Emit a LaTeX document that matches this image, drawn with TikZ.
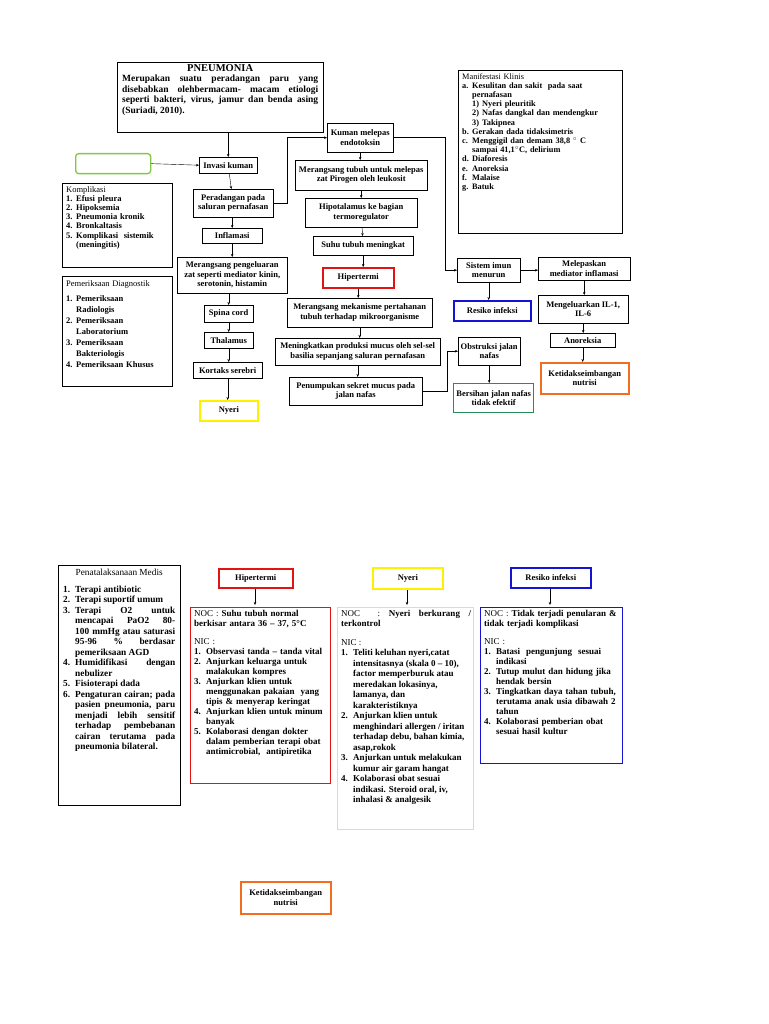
\documentclass[tikz,border=0pt]{standalone}
\usepackage{fontspec}
\setmainfont{Liberation Serif}
\usetikzlibrary{arrows.meta}
\newcommand\itm[2]{\par\hangindent=10pt\hangafter=1\noindent\makebox[10pt][l]{#1}#2}
\newcommand\itmb[2]{\par\hangindent=12pt\hangafter=1\noindent\makebox[12pt][l]{#1}#2}
\newcommand\myjust{\leftskip=0pt\rightskip=0pt\parfillskip=0pt plus 1fil\relax}
\definecolor{myred}{RGB}{225,20,20}
\definecolor{myyel}{RGB}{255,240,0}
\definecolor{myblue}{RGB}{20,20,210}
\definecolor{myorg}{RGB}{240,110,30}
\definecolor{mygrn}{RGB}{130,200,70}
\definecolor{myteal}{RGB}{40,140,90}
\tikzset{
 fb/.style={draw,anchor=north west,align=center,inner sep=1pt,font=\fontsize{8.5}{9.5}\selectfont\bfseries},
 arr/.style={-{Stealth[length=3pt,width=2.5pt]},thin},
 tx/.style={anchor=north west,inner sep=0pt,align=left},
}
\newcommand\flb[7][]{\node[fb,minimum width=#5pt,minimum height=#6pt,#1] (#2) at (#3,#4) {#7};}
\begin{document}
\begin{tikzpicture}[x=1pt,y=-1pt]
\useasboundingbox[fill=white] (0,0) rectangle (768,1024);
\hyphenpenalty=10000
% PNEUMONIA
\node[draw,anchor=north west,minimum width=206pt,minimum height=70pt] (pn) at (117,62) {};
\node[tx,align=justify,text width=196pt,font=\fontsize{9.5}{10.5}\selectfont\bfseries] at (122,64) {\centering\fontsize{10.5}{12}\selectfont PNEUMONIA\par\fontsize{9.5}{10.5}\selectfont\myjust\hyphenpenalty=10000 Merupakan suatu peradangan paru yang disebabkan olehbermacam- macam etiologi seperti bakteri, virus, jamur dan benda asing (Suriadi, 2010).\par};
\node[draw=mygrn,line width=1.3pt,rounded corners=3pt,anchor=north west,minimum width=75pt,minimum height=20pt] (gr) at (75,153) {};
\flb{inv}{199}{157}{58}{16}{Invasi kuman}
\flb{per}{193}{189}{80}{28}{Peradangan pada\\saluran pernafasan}
\flb{inf}{202}{228}{60}{15}{Inflamasi}
\flb{mp}{177}{257}{110}{36}{Merangsang pengeluaran\\zat seperti mediator kinin,\\serotonin, histamin}
\flb{sc}{204}{305}{49}{17}{Spina cord}
\flb{th}{204}{332}{49}{16}{Thalamus}
\flb{ks}{193}{362}{69}{16}{Kortaks serebri}
\flb[draw=myyel,line width=1.8pt]{ny}{199}{400}{58}{20}{Nyeri}
\flb{kk}{327}{123}{66}{29}{Kuman melepas\\endotoksin}
\flb{mt}{295}{160}{132}{30}{Merangsang tubuh untuk melepas\\zat Pirogen oleh leukosit}
\flb{hp}{305}{198}{112}{29}{Hipotalamus ke bagian\\termoregulator}
\flb{st}{313}{236}{100}{19}{Suhu tubuh meningkat}
\flb[draw=myred,line width=1.5pt]{ht}{322}{267}{71}{20}{Hipertermi}
\flb{mm}{287}{298}{145}{29}{Merangsang mekanisme pertahanan\\tubuh terhadap mikroorganisme}
\flb{mk}{275}{338}{165}{27}{Meningkatkan produksi mucus oleh sel-sel\\basilia sepanjang saluran pernafasan}
\flb{ps}{289}{377}{133}{28}{Penumpukan sekret mucus pada\\jalan nafas}
\flb{si}{457}{258}{63}{24}{Sistem imun\\menurun}
\flb{ml}{538}{257}{92}{23}{Melepaskan\\mediator inflamasi}
\flb[draw=myblue,line width=1.5pt]{ri}{453}{300}{77}{20}{Resiko infeksi}
\flb{il}{538}{295}{90}{28}{Mengeluarkan IL-1,\\IL-6}
\flb{an}{550}{333}{65}{14}{Anoreksia}
\flb[draw=myorg,line width=1.5pt]{kt}{540}{362}{88}{31}{Ketidakseimbangan\\nutrisi}
\flb{ob}{458}{337}{62}{28}{Obstruksi jalan\\nafas}
\flb[draw=myteal,line width=1.3pt]{bj}{453}{383}{80}{29}{Bersihan jalan nafas\\tidak efektif}
% info boxes
\draw (62,183) rectangle (172,267);
\node[tx,text width=106pt,font=\fontsize{8.5}{9.2}\selectfont] at (66,186) {Komplikasi\par\bfseries
\itm{1.}{Efusi pleura}\itm{2.}{Hipoksemia}\itm{3.}{Pneumonia kronik}\itm{4.}{Bronkaltasis}\itm{5.}{Komplikasi\ \ sistemik (meningitis)}\par};
\draw (62,276) rectangle (172,386);
\node[tx,text width=90pt,font=\fontsize{8.5}{11}\selectfont] at (66,280) {Pemeriksaan Diagnostik\par\vspace{4pt}\bfseries
\itm{1.}{Pemeriksaan Radiologis}\itm{2.}{Pemeriksaan Laboratorium}\itm{3.}{Pemeriksaan Bakteriologis}\itm{4.}{Pemeriksaan\ Khusus}\par};
\draw (458,70) rectangle (622,233);
\node[tx,text width=150pt,font=\fontsize{8.3}{9.2}\selectfont] at (462,73) {Manifestasi Klinis\par\bfseries
\itm{a.}{Kesulitan dan sakit\ \ pada saat pernafasan}
\par\leftskip=10pt\itm{1)}{Nyeri pleuritik}\itm{2)}{Nafas dangkal dan mendengkur}\itm{3)}{Takipnea}\par\leftskip=0pt
\itm{b.}{Gerakan dada tidaksimetris}\itm{c.}{Menggigil dan demam 38,8 $^\circ$ C sampai 41,1$^\circ$C, delirium}\itm{d.}{Diaforesis}\itm{e.}{Anoreksia}\itm{f.}{Malaise}\itm{g.}{Batuk}\par};
% top connectors
\draw[arr] (pn.south -| inv.north) -- (inv.north);
\draw[arr] (gr.east) -- (inv.west);
\draw[arr] (inv) -- (per);
\draw[arr] (per.east) -- ++(14,0) |- (kk.west);
\draw[arr] (per.south -| inf.north) -- (inf.north);
\draw[arr] (inf.south) -- (inf.south |- mp.north);
\draw[arr] (mp.south -| sc.north) -- (sc.north);
\draw[arr] (sc) -- (th);
\draw[arr] (th.south) -- (th.south |- ks.north);
\draw[arr] (ks.south) -- (ks.south |- ny.north);
\draw[arr] (kk) -- (kk |- mt.north);
\draw[arr] (mt) -- (hp);
\draw[arr] (hp) -- (st);
\draw[arr] (st) -- (st |- ht.north);
\draw[arr] (ht.south) -- (ht.south |- mm.north);
\draw[arr] (mm) -- (mm |- mk.north);
\draw[arr] (mk) -- (mk |- ps.north);
\draw[arr] (kk.east) -- ++(52,0) |- (si.west);
\draw[arr] (ps.east) -- ++(25,0) |- (ob.west);
\draw[arr] (ob.south) -- (ob.south |- bj.north);
\draw[arr] (si.south) -- (si.south |- ri.north);
\draw[arr] (si.east) -- (ml.west |- si.east);
\draw[arr] (ml.south) -- (ml.south |- il.north);
\draw[arr] (il.south) -- (il.south |- an.north);
\draw[arr] (an.south) -- (an.south |- kt.north);
% bottom section
\draw (58,565) rectangle (180,805);
\node[tx,align=justify,text width=112pt,font=\fontsize{9.3}{10.5}\selectfont] at (63,569) {\centering Penatalaksanaan Medis\par\vspace{6pt}\myjust\bfseries
\itmb{1.}{Terapi antibiotic}\itmb{2.}{Terapi suportif umum}\itmb{3.}{Terapi O2 untuk mencapai PaO2 80-100 mmHg atau saturasi 95-96 \% berdasar pemeriksaan AGD}\itmb{4.}{Humidifikasi dengan nebulizer}\itmb{5.}{Fisioterapi dada}\itmb{6.}{Pengaturan cairan; pada pasien pneumonia, paru menjadi lebih sensitif terhadap pembebanan cairan terutama pada pneumonia bilateral.}\par};
\flb[draw=myred,line width=1.5pt]{h2}{218}{568}{74}{19}{Hipertermi}
\flb[draw=myyel,line width=1.8pt]{nyb}{372}{567}{70}{21}{Nyeri}
\flb[draw=myblue,line width=1.5pt]{rib}{510}{567}{80}{20}{Resiko infeksi}
\draw[myred] (190,607) rectangle (330,783);
\coordinate (rt) at (255,605);
\node[tx,text width=134pt,font=\fontsize{9}{10}\selectfont\raggedright] at (194,610) {NOC : \textbf{Suhu tubuh normal berkisar antara 36 – 37, 5°C}\par\vspace{8pt}NIC :\par\bfseries
\itmb{1.}{Observasi tanda – tanda vital}\itmb{2.}{Anjurkan keluarga untuk malakukan kompres}\itmb{3.}{Anjurkan klien untuk menggunakan pakaian\ \ yang tipis \& menyerap keringat}\itmb{4.}{Anjurkan klien untuk minum banyak}\itmb{5.}{Kolaborasi dengan dokter dalam pemberian terapi obat antimicrobial,\ \ antipiretika}\par};
\draw[myyel,line width=1pt] (337,607) rectangle (473,829);
\coordinate (yt) at (407,605);
\node[tx,align=justify,text width=130pt,font=\fontsize{9}{10.5}\selectfont] at (341,610) {\myjust NOC\ \ : \textbf{Nyeri berkurang / terkontrol}\par\vspace{8pt}\raggedright NIC :\par\bfseries
\itmb{1.}{Teliti keluhan nyeri,catat intensitasnya (skala 0 – 10), factor memperburuk atau meredakan lokasinya, lamanya, dan karakteristiknya}\itmb{2.}{Anjurkan klien untuk menghindari allergen / iritan terhadap debu, bahan kimia, asap,rokok}\itmb{3.}{Anjurkan untuk melakukan kumur air garam hangat}\itmb{4.}{Kolaborasi obat sesuai indikasi. Steroid oral, iv, inhalasi \& analgesik}\par};
\draw[myblue] (480,607) rectangle (622,763);
\coordinate (bt) at (550,605);
\node[tx,text width=136pt,font=\fontsize{9}{10}\selectfont\raggedright] at (484,610) {NOC : \textbf{Tidak terjadi penularan \& tidak terjadi komplikasi}\par\vspace{8pt}NIC :\par\bfseries
\itmb{1.}{Batasi\ \ pengunjung\ \ sesuai indikasi}\itmb{2.}{Tutup mulut dan hidung jika hendak bersin}\itmb{3.}{Tingkatkan daya tahan tubuh, terutama anak usia dibawah 2 tahun}\itmb{4.}{Kolaborasi pemberian obat sesuai hasil kultur}\par};
\draw[arr] (h2.south -| rt) -- (rt);
\draw[arr] (nyb.south -| yt) -- (yt);
\draw[arr] (rib.south -| bt) -- (bt);
\flb[draw=myorg,line width=1.5pt]{kt2}{240}{881}{90}{32}{Ketidakseimbangan\\nutrisi}
\end{tikzpicture}
\end{document}
